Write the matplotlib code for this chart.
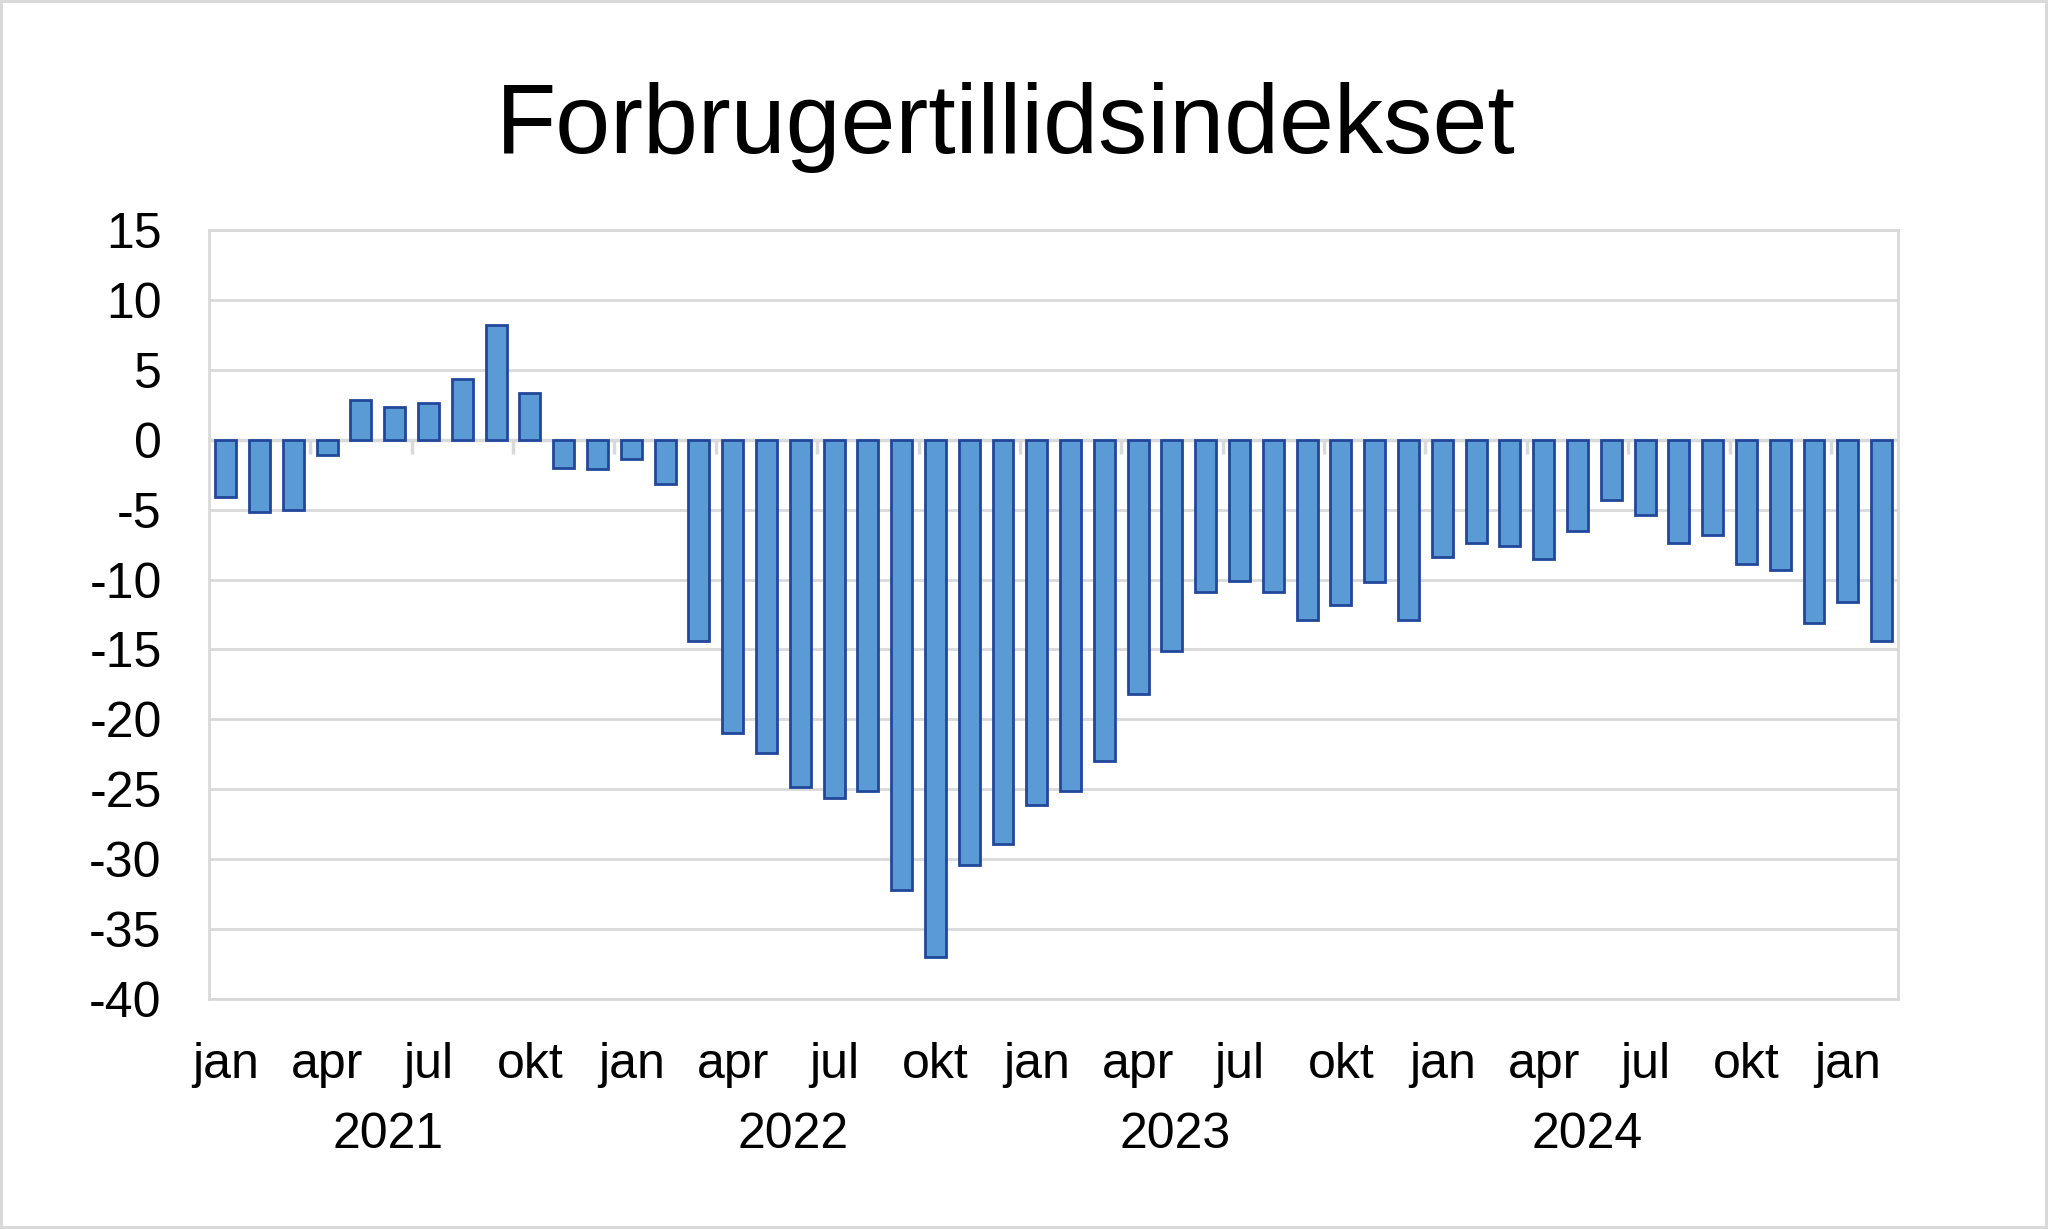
import numpy as np
import matplotlib.pyplot as plt

plt.rcParams['font.family'] = ['Liberation Sans', 'DejaVu Sans']
plt.rcParams['axes.unicode_minus'] = False

# Dane: jan 2021 - feb 2025
values = [-4.1, -5.2, -5.0, -1.1, 2.8, 2.3, 2.6, 4.3, 8.2, 3.3, -2.0, -2.1,
          -1.4, -3.2, -14.4, -21.0, -22.4, -24.8, -25.6, -25.1, -32.2, -37.0, -30.4, -28.9,
          -26.1, -25.1, -23.0, -18.2, -15.1, -10.9, -10.1, -10.9, -12.9, -11.8, -10.2, -12.9,
          -8.4, -7.4, -7.6, -8.5, -6.5, -4.3, -5.4, -7.4, -6.8, -8.9, -9.3, -13.1,
          -11.6, -14.4]
month_labels = ['jan', 'apr', 'jul', 'okt'] * 4 + ['jan']
month_pos = list(range(0, 49, 3))
years = ['2021', '2022', '2023', '2024']
year_pos = [4.8, 16.8, 28.1, 40.3]

fig = plt.figure(figsize=(20.48, 12.29), dpi=100)
fig.patch.set_edgecolor('#D9D9D9')
fig.patch.set_linewidth(3)
ax = fig.add_axes([0.102, 0.187, 0.825, 0.626])

x = np.arange(len(values))
ax.bar(x, values, width=0.62, color='#5B9BD5', edgecolor='#22479A', linewidth=2, zorder=3)

# gruppe-streger ved nul-linjen
ax.vlines(np.arange(2.5, 49, 3), 0, -1.0, color='#D9D9D9', linewidth=2.5, zorder=1)
ax.axhline(0, color='#D9D9D9', linewidth=2.5, zorder=2)

ax.set_xlim(-0.5, len(values) - 0.5)
ax.set_ylim(-40, 15)
ax.set_yticks(np.arange(-40, 16, 5))
ax.tick_params(axis='y', labelsize=36, length=0, pad=34)
ax.set_xticks([])
ax.grid(axis='y', color='#D9D9D9', linewidth=2, zorder=0)
for s in ax.spines.values():
    s.set_color('#D9D9D9')
    s.set_linewidth(2)

for lab, p in zip(month_labels, month_pos):
    ax.text(p, -44.7, lab, ha='center', va='center', fontsize=36)
for lab, p in zip(years, year_pos):
    ax.text(p, -49.7, lab, ha='center', va='center', fontsize=36)

fig.text(0.491, 0.896, 'Forbrugertillidsindekset', ha='center', va='center', fontsize=71)

fig.savefig('out.png', dpi=100)
